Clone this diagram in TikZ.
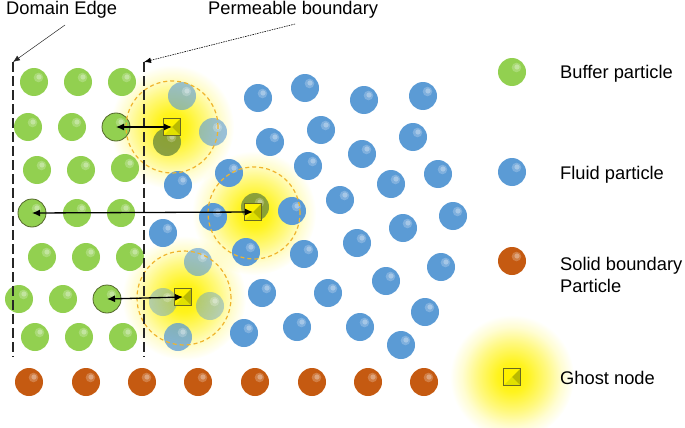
\documentclass[tikz,border=0pt]{standalone}
\usepackage{fontspec}
\setmainfont{Liberation Sans}
\usetikzlibrary{arrows.meta,fadings}
\definecolor{bufc}{RGB}{146,208,80}
\definecolor{fluc}{RGB}{91,155,213}
\definecolor{solc}{RGB}{197,90,17}
\definecolor{olivec}{RGB}{119,147,60}
\definecolor{ringc}{RGB}{240,180,45}
\definecolor{gsqdark}{RGB}{185,185,0}
\definecolor{gsqmid}{RGB}{225,225,0}
\definecolor{gsqedge}{RGB}{105,105,35}
\pgfdeclareradialshading{glowsh}{\pgfpointorigin}{color(0bp)=(white); color(6bp)=(white!88!black); color(14bp)=(white!50!black); color(20bp)=(white!18!black); color(25bp)=(black); color(50bp)=(black)}
\pgfdeclarefading{glowfade}{\pgfuseshading{glowsh}}
\tikzset{
  ptc/.style={circle, minimum size=28pt, inner sep=0pt, outer sep=0pt, fill=#1,
    path picture={
      \fill[white, fill opacity=0.22] ([xshift=4.5pt,yshift=4.5pt]path picture bounding box.center) circle (4.8pt);
      \fill[white, fill opacity=0.3] ([xshift=5pt,yshift=5pt]path picture bounding box.center) circle (2.6pt);}},
  buf/.style={ptc=bufc},
  flu/.style={ptc=fluc},
  sol/.style={ptc=solc},
  oli/.style={ptc=olivec, fill opacity=0.85},
  faded/.style={fill opacity=0.62},
  target/.style={draw=olivec!70!black, line width=0.8pt},
  ghost/.style={rectangle, minimum size=17pt, inner sep=0pt, fill=yellow, draw=gsqedge, line width=0.6pt,
    path picture={
      \fill[gsqmid] (path picture bounding box.south west) -- (path picture bounding box.center) -- (path picture bounding box.south east) -- cycle;
      \fill[gsqdark] (path picture bounding box.north east) -- (path picture bounding box.center) -- (path picture bounding box.south east) -- cycle;}},
  ring/.style={draw=ringc, line width=1.2pt, dash pattern=on 4pt off 3pt},
  edge/.style={draw=black!85, line width=1.2pt, dash pattern=on 10pt off 4pt},
  lbl/.style={font=\fontsize{18.3}{22}\selectfont, anchor=base west, inner sep=0pt},
  dim/.style={{Latex[length=8pt,width=7pt]}-{Latex[length=8pt,width=7pt]}, line width=1.3pt, black},
  lead/.style={-{Latex[length=7pt,width=5.5pt]}, line width=0.5pt, black!85},
}
\newcommand{\glowat}[1]{\fill[yellow, path fading=glowfade] #1 circle (62pt);}
\begin{document}
\begin{tikzpicture}[x=1pt,y=-1pt]
\useasboundingbox (0,0) rectangle (685,428);
% glows
\glowat{(172,127)}
\glowat{(254,213)}
\glowat{(184,298)}
\glowat{(512,377)}
% buffer particles
\node[buf] (b11) at (34,82) {};
\node[buf] (b12) at (78,82) {};
\node[buf] (b13) at (122,82) {};
\node[buf] (b21) at (28,127) {};
\node[buf] (b22) at (72,127) {};
\node[buf,target] (b23) at (116,127) {};
\node[buf] (b31) at (37,170) {};
\node[buf] (b32) at (81,170) {};
\node[buf] (b33) at (125,168) {};
\node[buf,target] (b41) at (32,213) {};
\node[buf] (b42) at (77,213) {};
\node[buf] (b43) at (121,213) {};
\node[buf] (b51) at (42,257) {};
\node[buf] (b52) at (86,257) {};
\node[buf] (b53) at (130,257) {};
\node[buf] (b61) at (19,299) {};
\node[buf] (b62) at (63,299) {};
\node[buf,target] (b63) at (107,299) {};
\node[buf] (b71) at (35,337) {};
\node[buf] (b72) at (79,337) {};
\node[buf] (b73) at (123,337) {};
% solid boundary particles
\foreach \x [count=\i] in {29,86,142,198,255,312,368,424}
  \node[sol] (s\i) at (\x,382) {};
% fluid particles
\foreach \x/\y [count=\i] in {258/98,305/88,364/100,423/96,270/142,321/130,413/137,308/166,362/154,438/174,178/185,340/200,391/184,453/216,163/233,403/228,357/243,304/254,441/267,262/293,328/293,386/281,425/312,244/333,297/327,360/327,401/345,229/173,213/217,292/211,246/252}
  \node[flu] (f\i) at (\x,\y) {};
\foreach \x/\y [count=\i] in {182/96,213/132,198/262}
  \node[flu,faded] (ff\i) at (\x,\y) {};
\node[flu,fill opacity=0.45] (ff4) at (163,302) {};
\node[flu,fill opacity=0.45] (ff5) at (210,306) {};
\node[flu,fill opacity=0.75] (ff6) at (178,337) {};
% olive particles
\node[oli] (o1) at (167,142) {};
\node[oli] (o2) at (255,207) {};
% support rings
\node[circle, ring, minimum size=92pt, inner sep=0pt] (r1) at (172,127) {};
\node[circle, ring, minimum size=92pt, inner sep=0pt] (r2) at (254,213) {};
\node[circle, ring, minimum size=94pt, inner sep=0pt] (r3) at (184,298) {};
% edges
\coordinate (de1) at (13,62);
\coordinate (de2) at (13,357);
\coordinate (pb1) at (144,62);
\coordinate (pb2) at (144,357);
\draw[edge] (de1) -- (de2);
\draw[edge] (pb1) -- (pb2);
% ghost nodes
\node[ghost] (g1) at (172,127) {};
\node[ghost] (g2) at (253,212) {};
\node[ghost] (g3) at (183,297) {};
\node[ghost] (g4) at (512,377) {};
% mirror arrows
\draw[dim] (b23.center) -- (g1.center);
\draw[dim] (b41.center) -- (g2.center);
\draw[dim] (b63.center) -- (g3.center);
% labels
\node[lbl] (tde) at (6,15) {Domain Edge};
\node[lbl] (tpb) at (208,15) {Permeable boundary};
\coordinate (dea) at (65,25);
\coordinate (pba) at (295,24);
\draw[lead] (dea) -- (de1);
\draw[lead, black, line width=0.6pt, dash pattern=on 1.5pt off 1pt] (pba) -- (pb1);
% legend
\node[buf] (lb) at (512,72) {};
\node[flu] (lf) at (512,172) {};
\node[sol] (ls) at (512,261) {};
\node[lbl] (tlb) at (560,78) {Buffer particle};
\node[lbl] (tlf) at (560,179) {Fluid particle};
\node[lbl] (tls) at (560,270) {Solid boundary};
\node[lbl] (tls2) at (560,292) {Particle};
\node[lbl] (tlg) at (560,384) {Ghost node};
\end{tikzpicture}
\end{document}
